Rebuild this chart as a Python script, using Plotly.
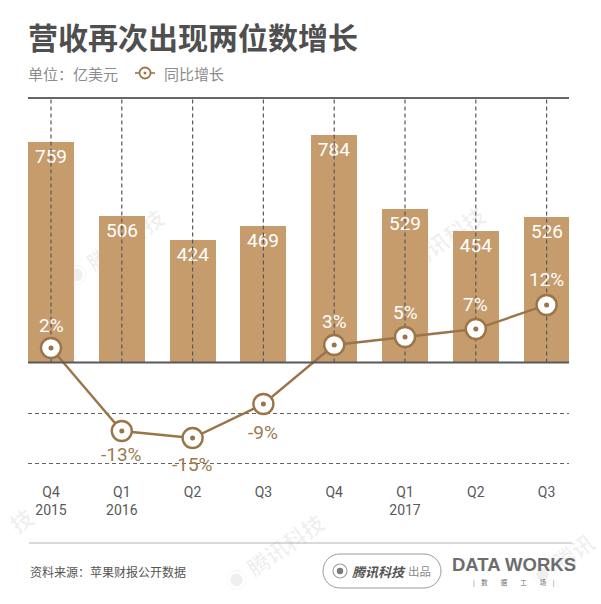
import plotly.graph_objects as go

W, H = 601, 604
quarters = ["Q4<br>2015", "Q1<br>2016", "Q2", "Q3", "Q4", "Q1<br>2017", "Q2", "Q3"]
revenue_labels = [759, 506, 424, 469, 784, 529, 454, 526]
# bar heights as drawn in the picture (the last bar is drawn shorter than its label says)
revenue_drawn = [759, 506, 424, 469, 784, 529, 454, 502]
growth_labels = ["2%", "-13%", "-15%", "-9%", "3%", "5%", "7%", "12%"]
# heights at which the growth markers sit in the picture, in percentage points
growth_drawn = [2.87, -13.56, -14.95, -8.22, 3.47, 5.05, 6.63, 11.39]
growth_label_gap = [23, -24, -26, -28, 23, 25, 25, 25]

BAR = "#c69c6d"
LINE = "#9a7549"
DARK = "#58595b"
CJK = "Noto Sans CJK SC"
NUM = "Roboto"

idx = list(range(len(quarters)))
PX_PER_CAT = 70.8
X0, X1 = 28, 569
TOP, ZERO, BOTTOM = 98, 362.5, 482
Y1_SCALE = 0.29   # px per revenue unit
Y2_SCALE = 5.05   # px per percentage point
y1_top = (ZERO - TOP) / Y1_SCALE
y1_bot = (ZERO - BOTTOM) / Y1_SCALE
y2_top = (ZERO - TOP) / Y2_SCALE
y2_bot = (ZERO - BOTTOM) / Y2_SCALE


def px(v):
    return v / W


def py(v):
    return 1 - v / H


fig = go.Figure()
fig.add_bar(
    x=idx, y=revenue_drawn, width=46 / PX_PER_CAT, marker=dict(color=BAR, line_width=0),
    text=[str(v) for v in revenue_labels], textposition="inside", insidetextanchor="end",
    textangle=0, constraintext="none", cliponaxis=False,
    textfont=dict(family=NUM, size=19, color="white"), showlegend=False, hoverinfo="skip",
)

# vertical dashed guides, one per category
gx, gy = [], []
for i in idx:
    gx += [i, i, None]
    gy += [0, y1_top, None]
fig.add_scatter(x=gx, y=gy, mode="lines", line=dict(color=DARK, width=1.2, dash="4px,3px"),
                showlegend=False, hoverinfo="skip")

fig.add_scatter(
    x=idx, y=growth_drawn, yaxis="y2", mode="lines+markers", name="同比增长",
    line=dict(color=LINE, width=2.4),
    marker=dict(size=20, color="white", line=dict(color=LINE, width=2.4)),
    showlegend=False, hoverinfo="skip",
)
fig.add_scatter(x=idx, y=growth_drawn, yaxis="y2", mode="markers",
                marker=dict(size=5, color=LINE), showlegend=False, hoverinfo="skip")

shapes = [
    dict(type="line", xref="paper", yref="paper", x0=px(X0), x1=px(X1), y0=py(TOP), y1=py(TOP),
         line=dict(color="#666666", width=2)),
    dict(type="line", xref="paper", yref="paper", x0=px(X0), x1=px(X1), y0=py(ZERO), y1=py(ZERO),
         line=dict(color=DARK, width=2)),
    dict(type="line", xref="paper", yref="paper", x0=px(29), x1=px(572), y0=py(543), y1=py(543),
         line=dict(color="#b3b3b3", width=1.2)),
    # legend key
    dict(type="line", xref="paper", yref="paper", x0=px(135), x1=px(155), y0=py(73), y1=py(73),
         line=dict(color=LINE, width=1.6)),
    dict(type="circle", xref="paper", yref="paper", xsizemode="pixel", ysizemode="pixel",
         xanchor=px(145), yanchor=py(73), x0=-5.5, x1=5.5, y0=-5.5, y1=5.5,
         fillcolor="white", line=dict(color=LINE, width=1.8)),
    dict(type="circle", xref="paper", yref="paper", xsizemode="pixel", ysizemode="pixel",
         xanchor=px(145), yanchor=py(73), x0=-1.5, x1=1.5, y0=-1.5, y1=1.5,
         fillcolor=LINE, line_width=0),
    # logo pill
    dict(type="path", xref="paper", yref="paper", xsizemode="pixel", ysizemode="pixel",
         xanchor=px(323), yanchor=py(588),
         path="M 17 0 L 101 0 C 110 0 118 7.4 118 17 C 118 26.6 110 34 101 34 "
              "L 17 34 C 7.4 34 0 26.6 0 17 C 0 7.4 7.4 0 17 0 Z",
         line=dict(color="#9a9a9a", width=1), fillcolor="rgba(255,255,255,0)"),
    dict(type="circle", xref="paper", yref="paper", xsizemode="pixel", ysizemode="pixel",
         xanchor=px(340), yanchor=py(571), x0=-7, x1=7, y0=-7, y1=7,
         line=dict(color="#a0a0a0", width=1.2), fillcolor="white"),
    dict(type="circle", xref="paper", yref="paper", xsizemode="pixel", ysizemode="pixel",
         xanchor=px(340), yanchor=py(571), x0=-3.2, x1=3.2, y0=-3.2, y1=3.2,
         line_width=0, fillcolor="#7a7a7a"),
]

# faint diagonal watermarks, under the bars
for wx, wy, wtext in [(116, 250, "◉ 腾讯科技"), (437, 248, "◉ 腾讯科技"), (276, 555, "◉ 腾讯科技"),
                      (564, 562, "◉ 腾讯"), (23, 523, "技")]:
    shapes.append(dict(
        type="rect", xref="paper", yref="paper", layer="below",
        x0=px(wx - 2), x1=px(wx + 2), y0=py(wy + 2), y1=py(wy - 2),
        line_width=0, fillcolor="rgba(0,0,0,0)",
        label=dict(text="<b>" + wtext + "</b>", textangle=-35, textposition="middle center",
                   font=dict(family=CJK, size=22, color="rgba(0,0,0,0.06)")),
    ))


def label(x, y, text, size, color, family=CJK, anchor="left", angle=0):
    return dict(xref="paper", yref="paper", x=px(x), y=py(y), text=text, showarrow=False,
                xanchor=anchor, yanchor="middle", textangle=angle,
                font=dict(family=family, size=size, color=color))


annotations = [
    label(26, 36, "<b>营收再次出现两位数增长</b>", 30, "#4f4f4f"),
    label(26, 73, "单位：亿美元", 15, "#8c8c8c"),
    label(162, 73, "同比增长", 15, "#8c8c8c"),
    label(28, 571, "资料来源：苹果财报公开数据", 12, "#555555"),
    label(350, 571, "<b><i>腾讯科技</i></b>", 13, "#555555"),
    label(406, 571, "出品", 11.5, "#8a8a8a"),
    label(450, 564, "<b>DATA WORKS</b>", 18.5, "#6d6d6d", family="Liberation Sans"),
    label(514, 582, "|　数　　据　　工　　场　|", 6.5, "#6d6d6d", anchor="center"),
]
for i, (txt, v, gap) in enumerate(zip(growth_labels, growth_drawn, growth_label_gap)):
    annotations.append(dict(
        xref="x", yref="y2", x=i, y=v, yshift=gap, text=txt, showarrow=False,
        xanchor="center", yanchor="middle",
        font=dict(family=NUM, size=19, color="#9c7a50" if txt.startswith("-") else "white"),
    ))

fig.update_layout(
    width=W, height=H, autosize=False, margin=dict(l=0, r=0, t=0, b=0),
    paper_bgcolor="white", plot_bgcolor="rgba(0,0,0,0)", bargap=0,
    xaxis=dict(domain=[px(X0), px(X1)],
               range=[(X0 - 51) / PX_PER_CAT, (X1 - 51) / PX_PER_CAT],
               tickmode="array", tickvals=idx, ticktext=quarters, ticks="",
               tickfont=dict(family=NUM, size=14, color=DARK), showgrid=False, zeroline=False,
               showline=False),
    yaxis=dict(domain=[py(BOTTOM), py(TOP)], range=[y1_bot, y1_top], showgrid=False,
               zeroline=False, showticklabels=False, ticks="", showline=False),
    yaxis2=dict(overlaying="y", side="right", range=[y2_bot, y2_top], tickmode="array",
                tickvals=[-20, -10], showticklabels=False, ticks="", showgrid=True,
                gridcolor="#666666", gridwidth=1, griddash="4px,3px", zeroline=False,
                showline=False),
    shapes=shapes, annotations=annotations,
)
fig.write_html("out.html", config={"displayModeBar": False},
               post_script="document.body.style.margin='0';document.documentElement.style.overflow='hidden';")
